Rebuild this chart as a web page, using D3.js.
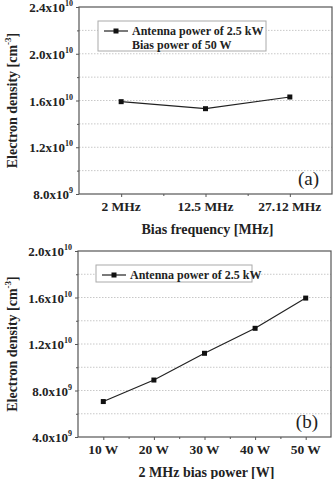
<!DOCTYPE html>
<html>
<head>
<meta charset="utf-8">
<script src="https://cdn.jsdelivr.net/npm/d3@7/dist/d3.min.js"></script>
<style>
  body { margin: 0; background: #fff; }
  svg text { font-family: "Liberation Serif", "Times New Roman", serif; }
</style>
</head>
<body>
<div id="chart"></div>
<script>
// data
var freqLabels = ["2 MHz", "12.5 MHz", "27.12 MHz"];
var freqDensity = [1.59e10, 1.53e10, 1.63e10];

var biasPower = [10, 20, 30, 40, 50];
var powerDensity = [7.05e9, 8.9e9, 1.12e10, 1.335e10, 1.595e10];

var yTicksA = [8e9, 1.2e10, 1.6e10, 2.0e10, 2.4e10];
var yTicksB = [4e9, 8e9, 1.2e10, 1.6e10, 2.0e10];
var xTicksB = [10, 20, 30, 40, 50];

var w = 334, h = 479;
var svg = d3.select("#chart").append("svg")
    .attr("width", w)
    .attr("height", h);

// mantissa x 10^exp label
function sciLabel(sel, v) {
    var e = Math.floor(Math.log10(v) + 1e-9);
    var m = v / Math.pow(10, e);
    sel.text(m.toFixed(1) + "x10");
    sel.append("tspan").attr("dy", -6).attr("font-size", "8px").text(e);
}

function panel(o) {
    var g = svg.append("g");
    var x = o.x, y = o.y;
    var L = x.range()[0], R = x.range()[1], B = y.range()[0], T = y.range()[1];

    // dotted grid at every 0.2e10
    var grid = d3.range(y.domain()[0] + 2e9, y.domain()[1] - 1e8, 2e9);
    g.selectAll(".grid").data(grid).enter().append("line")
        .attr("x1", L).attr("x2", R)
        .attr("y1", d => y(d)).attr("y2", d => y(d))
        .attr("stroke", "#c8c8c8").attr("stroke-width", 1)
        .attr("stroke-dasharray", "1.5,1.5");

    // y axis ticks (major + minor), labels drawn separately
    g.append("g").attr("transform", "translate(" + L + ",0)")
        .call(d3.axisLeft(y).tickValues(o.yTicks).tickSize(3).tickFormat(""))
        .call(a => a.select(".domain").remove());
    g.append("g").attr("transform", "translate(" + L + ",0)")
        .call(d3.axisLeft(y).tickValues(grid.filter((d, i) => i % 2 == 0)).tickSize(2).tickFormat(""))
        .call(a => a.select(".domain").remove());

    g.append("g").attr("transform", "translate(0," + B + ")")
        .call(d3.axisBottom(x).tickValues(o.xTicks).tickSize(3).tickFormat(""))
        .call(a => a.select(".domain").remove());
    g.append("g").attr("transform", "translate(0," + B + ")")
        .call(d3.axisBottom(x).tickValues(o.xMinor).tickSize(2).tickFormat(""))
        .call(a => a.select(".domain").remove());

    g.selectAll(".tick line").attr("stroke", "#555");

    // frame
    g.append("rect")
        .attr("x", L).attr("y", T)
        .attr("width", R - L).attr("height", B - T)
        .attr("fill", "none").attr("stroke", "#555").attr("stroke-width", 1.2);

    // y tick labels
    g.selectAll(".ylab").data(o.yTicks).enter().append("text")
        .attr("x", L - 6).attr("y", d => y(d) + 5)
        .attr("text-anchor", "end")
        .attr("font-size", "13px").attr("font-weight", "bold")
        .attr("fill", "#222")
        .each(function(d) { sciLabel(d3.select(this), d); });

    // x tick labels
    g.selectAll(".xlab").data(o.xTicks).enter().append("text")
        .attr("x", d => x(d)).attr("y", B + 17)
        .attr("text-anchor", "middle")
        .attr("font-size", "13.5px").attr("font-weight", "bold")
        .attr("fill", "#222")
        .text((d, i) => o.xLabels[i]);

    // axis titles
    g.append("text")
        .attr("x", (L + R) / 2 + 2).attr("y", B + 40)
        .attr("text-anchor", "middle")
        .attr("font-size", "14px").attr("font-weight", "bold")
        .attr("fill", "#222")
        .text(o.xTitle);

    var yt = g.append("text")
        .attr("transform", "translate(17," + ((T + B) / 2) + ") rotate(-90)")
        .attr("text-anchor", "middle")
        .attr("font-size", "14px").attr("font-weight", "bold")
        .attr("fill", "#222")
        .text("Electron density [cm");
    yt.append("tspan").attr("dy", -6).attr("font-size", "9px").text("-3");
    yt.append("tspan").attr("dy", 6).text("]");

    // data line and markers
    var pts = o.xs.map((d, i) => [x(d), y(o.ys[i])]);
    g.append("path")
        .datum(pts)
        .attr("fill", "none").attr("stroke", "#222").attr("stroke-width", 1.2)
        .attr("d", d3.line());
    g.selectAll(".pt").data(pts).enter().append("rect")
        .attr("x", d => d[0] - 2.5).attr("y", d => d[1] - 2.5)
        .attr("width", 5).attr("height", 5)
        .attr("fill", "#111");

    // legend
    var lg = o.legend;
    g.append("rect")
        .attr("x", lg.x).attr("y", lg.y)
        .attr("width", lg.w).attr("height", lg.h)
        .attr("fill", "#fff").attr("stroke", "#aaa").attr("stroke-width", 1);
    var ly = lg.y + 10;
    g.append("line")
        .attr("x1", lg.x + 6).attr("x2", lg.x + 30)
        .attr("y1", ly).attr("y2", ly)
        .attr("stroke", "#222").attr("stroke-width", 1.2);
    g.append("rect")
        .attr("x", lg.x + 15.5).attr("y", ly - 2.5)
        .attr("width", 5).attr("height", 5).attr("fill", "#111");
    lg.lines.forEach(function(t, i) {
        g.append("text")
            .attr("x", lg.x + 34).attr("y", ly + 4 + i * 14)
            .attr("font-size", "12px").attr("font-weight", "bold")
            .attr("fill", "#222")
            .text(t);
    });

    // panel tag
    g.append("text")
        .attr("x", R - 13).attr("y", B - 9)
        .attr("text-anchor", "end")
        .attr("font-size", "19px")
        .attr("fill", "#222")
        .text(o.tag);
}

// panel (a): bias frequency
panel({
    x: d3.scaleLinear().domain([-0.5, 2.5]).range([79, 332]),
    y: d3.scaleLinear().domain([8e9, 2.4e10]).range([194, 7]),
    xs: freqLabels.map((d, i) => i),
    ys: freqDensity,
    xTicks: [0, 1, 2],
    xMinor: [0.5, 1.5],
    xLabels: freqLabels,
    yTicks: yTicksA,
    xTitle: "Bias frequency [MHz]",
    legend: { x: 98, y: 21, w: 168, h: 30, lines: ["Antenna power of 2.5 kW", "Bias power of 50 W"] },
    tag: "(a)"
});

// panel (b): bias power
panel({
    x: d3.scaleLinear().domain([5, 55]).range([78, 331]),
    y: d3.scaleLinear().domain([4e9, 2.0e10]).range([437, 251]),
    xs: biasPower,
    ys: powerDensity,
    xTicks: xTicksB,
    xMinor: [15, 25, 35, 45],
    xLabels: xTicksB.map(d => d + " W"),
    yTicks: yTicksB,
    xTitle: "2 MHz bias power [W]",
    legend: { x: 96, y: 265, w: 156, h: 17, lines: ["Antenna power of 2.5 kW"] },
    tag: "(b)"
});
</script>
</body>
</html>
